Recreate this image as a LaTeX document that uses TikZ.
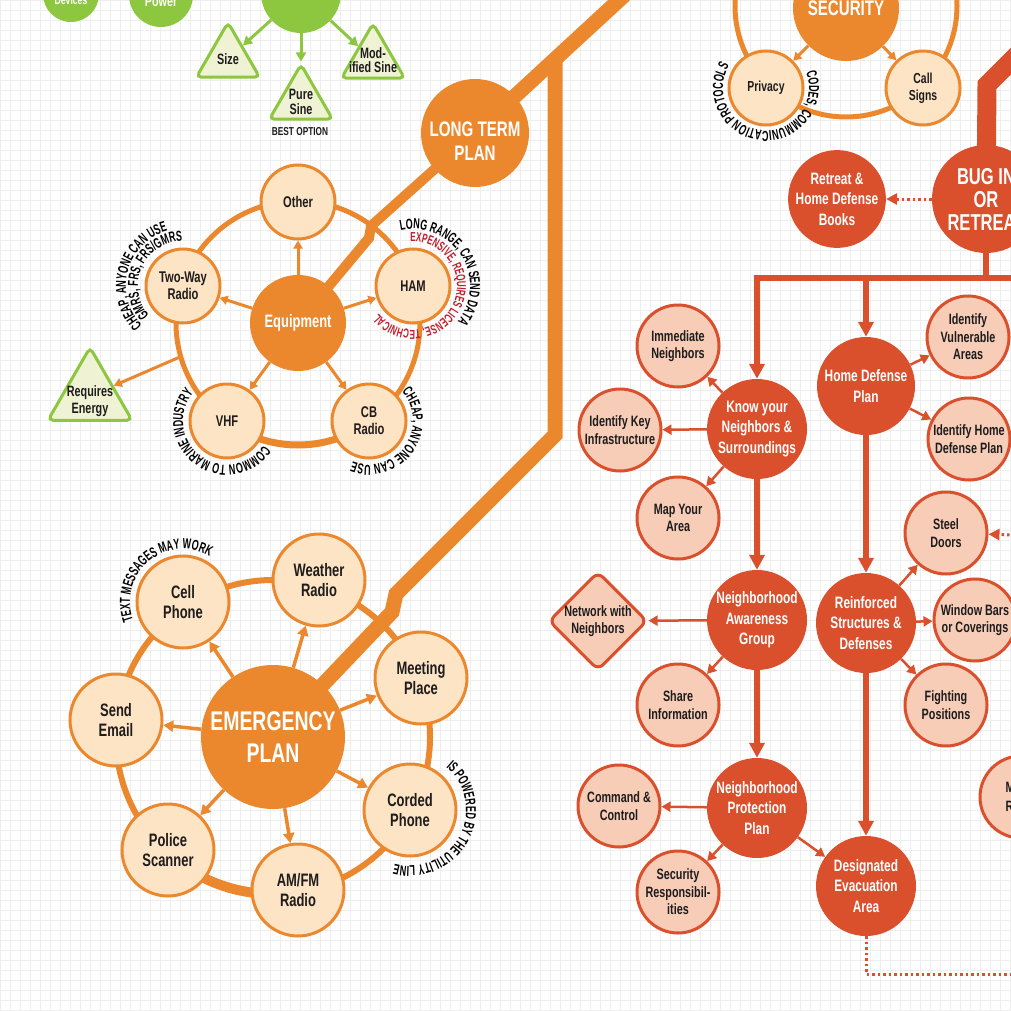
\documentclass[tikz,border=0pt]{standalone}
\usepackage{fontspec}
\setmainfont{Liberation Sans}[FakeStretch=0.72]
\newfontfamily\arcfam{Liberation Sans}[FakeStretch=0.62]
\usetikzlibrary{arrows.meta, positioning, calc, decorations.text, shapes.geometric, backgrounds}

\definecolor{orng}{RGB}{235,136,46}
\definecolor{orngpale}{RGB}{252,228,197}
\definecolor{rust}{RGB}{218,80,45}
\definecolor{rustpale}{RGB}{247,205,184}
\definecolor{lime}{RGB}{141,198,63}
\definecolor{limepale}{RGB}{239,243,212}
\definecolor{ink}{RGB}{30,28,28}
\definecolor{alert}{RGB}{190,30,45}
\definecolor{gridgray}{RGB}{238,238,238}

\newcommand{\fsz}[2]{\fontsize{#1}{#2}\selectfont\bfseries}
\newcommand{\arcf}{\arcfam\fontsize{14.5}{15}\selectfont\bfseries}
\newcommand{\arcfs}{\arcfam\fontsize{13}{13}\selectfont\bfseries}

\begin{document}
\begin{tikzpicture}[x=1pt, y=-1pt,
  hubo/.style={circle, fill=orng, text=white, align=center, inner sep=0pt},
  spokeo/.style={circle, draw=orng, line width=3pt, fill=orngpale, text=ink,
                 align=center, inner sep=0pt},
  hubr/.style={circle, fill=rust, text=white, align=center, inner sep=0pt,
               minimum size=100pt, font=\fsz{16.5}{20.5}},
  spoker/.style={circle, draw=rust, line width=3pt, fill=rustpale, text=ink,
                 align=center, inner sep=0pt, minimum size=82pt, font=\fsz{15}{17.5}},
  blob/.style={circle, fill=lime, inner sep=0pt},
  tri/.style={regular polygon, regular polygon sides=3, draw=lime, line width=3pt,
              fill=limepale, rounded corners=5pt, inner sep=0pt},
  tritxt/.style={font=\fsz{15}{14.5}, text=ink, align=center, inner sep=0pt},
  arro/.style={draw=orng, line width=3pt, -{Triangle[length=8pt, width=9pt]}},
  arroe/.style={draw=orng, line width=3.5pt, -{Triangle[length=10pt, width=11pt]}},
  arrg/.style={draw=lime, line width=3pt, -{Triangle[length=9pt, width=10pt]}},
  arrr/.style={draw=rust, line width=2.5pt, -{Triangle[length=9pt, width=10pt]}},
  trunkr/.style={draw=rust, line width=5.5pt, -{Triangle[length=15pt, width=15pt]}},
  dotr/.style={draw=rust, line width=3pt, dash pattern=on 2.5pt off 3pt},
  ring/.style={draw=orng, line width=#1},
  trunk/.style={draw=orng, line width=#1},
  arcs/.style={decorate, decoration={text along path, text align=center, text={#1}}},
  arcsred/.style={decorate, decoration={text along path, text align=center,
                  text color=alert, text={#1}}}
]
\useasboundingbox (0,0) rectangle (1011,1011);
\clip (0,0) rectangle (1011,1011);

% ── green: power branch, cut off at the top ──
\node[blob, minimum size=56pt] (devices) at (71,-6) {};
\node[text=white, font=\fsz{12}{12}] (devtxt) at (71,0) {Devices};
\node[blob, minimum size=64pt] (power) at (161,-5) {};
\node[text=white, font=\fsz{15}{15}] (powtxt) at (161,1) {Power};
\node[blob, minimum size=80pt] (inverter) at (301,-7) {};

\node[tri, minimum size=73pt, label={[tritxt]center:Size}] (size) at (228,59) {};
\node[tri, minimum size=73pt, label={[tritxt, yshift=-1pt]center:Pure\\Sine}] (puresine) at (301,101) {};
\node[tri, minimum size=73pt, label={[tritxt]center:Mod-\\ified Sine}] (modsine) at (373,60) {};
\node[font=\fsz{11.5}{13}, text=ink] (bestopt) at (300,132) {BEST OPTION};
\node[tri, minimum size=97pt, label={[tritxt, font=\fsz{15}{16.5}, yshift=-5pt]center:Requires\\Energy}] (energy) at (90,396) {};

% ── equipment cluster ──
\node[hubo, minimum size=96pt, font=\fsz{18}{20}] (equip) at (298,323) {Equipment};
\node[spokeo, minimum size=74pt, font=\fsz{15.5}{17}] (other) at (298,202) {Other};
\node[spokeo, minimum size=74pt, font=\fsz{15.5}{17}] (twoway) at (183,286) {Two-Way\\Radio};
\node[spokeo, minimum size=74pt, font=\fsz{15.5}{17}] (ham) at (413,286) {HAM};
\node[spokeo, minimum size=74pt, font=\fsz{15.5}{17}] (vhf) at (227,421) {VHF};
\node[spokeo, minimum size=74pt, font=\fsz{15.5}{17}] (cb) at (369,421) {CB\\Radio};
\coordinate (eqring) at ($(equip)+(164:122)$);

\node[hubo, minimum size=108pt] (ltp) at (475,133) {};
\node[text=white, align=center, font=\fsz{21}{24.5}] (ltptxt) at ($(ltp)+(0,8)$) {LONG TERM\\PLAN};

% ── emergency cluster ──
\node[hubo, minimum size=144pt, font=\fsz{27}{32}] (emerg) at (273,737) {EMERGENCY\\PLAN};
\node[spokeo, minimum size=92pt, font=\fsz{18}{20}] (cell) at (183,602) {Cell\\Phone};
\node[spokeo, minimum size=92pt, font=\fsz{18}{20}] (weather) at (319,580) {Weather\\Radio};
\node[spokeo, minimum size=92pt, font=\fsz{18}{20}] (meeting) at (421,678) {Meeting\\Place};
\node[spokeo, minimum size=92pt, font=\fsz{18}{20}] (corded) at (410,810) {Corded\\Phone};
\node[spokeo, minimum size=92pt, font=\fsz{18}{20}] (amfm) at (298,890) {AM/FM\\Radio};
\node[spokeo, minimum size=92pt, font=\fsz{18}{20}] (police) at (168,850) {Police\\Scanner};
\node[spokeo, minimum size=92pt, font=\fsz{18}{20}] (email) at (116,720) {Send\\Email};

% ── security cluster ──
\node[hubo, minimum size=106pt, font=\fsz{21}{25}] (sec) at (846,8) {SECURITY};
\node[spokeo, minimum size=74pt, font=\fsz{14.5}{17}] (privacy) at (766,88) {Privacy};
\node[spokeo, minimum size=74pt, font=\fsz{14.5}{17}] (callsigns) at (923,88) {Call\\Signs};

% ── bug in / retreat tree ──
\node[hubr, minimum size=108pt, font=\fsz{23}{23}] (bug) at (986,199) {BUG IN\\OR\\RETREAT};
\node[hubr, minimum size=94pt] (books) at (837,199) {Retreat \&\\Home Defense\\Books};
\coordinate (busr) at (1015,278);
\coordinate (busl) at (757,278);
\coordinate (busm) at (866,278);
\coordinate (bugdrop) at (986,278);

\node[hubr] (know) at (757,429) {Know your\\Neighbors \&\\Surroundings};
\node[spoker] (immediate) at (678,346) {Immediate\\Neighbors};
\node[spoker] (infra) at (620,430) {Identify Key\\Infrastructure};
\node[spoker] (maparea) at (678,518) {Map Your\\Area};
\node[hubr, minimum size=98pt] (homedef) at (866,386) {Home Defense\\Plan};
\node[spoker] (vulner) at (968,337) {Identify\\Vulnerable\\Areas};
\node[spoker] (idhome) at (969,439) {Identify Home\\Defense Plan};
\node[spoker] (steel) at (946,533) {Steel\\Doors};
\coordinate (steelin) at (1015,535);

\node[hubr] (nag) at (757,620) {Neighborhood\\Awareness\\Group};
\node[diamond, draw=rust, line width=3pt, fill=rustpale, rounded corners=7pt,
      minimum width=98pt, minimum height=98pt, inner sep=0pt, align=center,
      text=ink, font=\fsz{15}{17.5}] (network) at (598,621) {Network with\\Neighbors};
\node[spoker] (share) at (678,705) {Share\\Information};
\node[hubr] (reinf) at (866,623) {Reinforced\\Structures \&\\Defenses};
\node[spoker] (window) at (975,620) {Window Bars\\or Coverings};
\node[spoker] (fighting) at (946,705) {Fighting\\Positions};
\node[spoker] (medical) at (1021,797) {};
\node[anchor=west, align=left, text=ink, font=\fsz{15}{19}] (medtxt) at (1002,797) {M\\Re};

\node[hubr] (npp) at (757,808) {Neighborhood\\Protection\\Plan};
\node[spoker] (command) at (619,806) {Command \&\\Control};
\node[spoker] (secresp) at (678,892) {Security\\Responsibil-\\ities};
\node[hubr] (desig) at (866,886) {Designated\\Evacuation\\Area};
\coordinate (desigdrop) at (866,974);
\coordinate (desigout) at (1015,974);

% ── arrows ──
\foreach \t in {size, puresine, modsine}
  \draw[arrg] (inverter) -- (\t);
\draw[arro] (eqring) -- (energy);
\foreach \t in {other, twoway, ham, vhf, cb}
  \draw[arro] (equip) -- (\t);
\foreach \t in {cell, weather, meeting, corded, amfm, police, email}
  \draw[arroe] (emerg) -- (\t);
\draw[arro] (sec) -- (privacy);
\draw[arro] (sec) -- (callsigns);

\draw[dotr, -{Triangle[length=11pt, width=11pt]}] (bug) -- (books);
\draw[draw=rust, line width=5.5pt] (bug) -- (bugdrop);
\draw[trunkr] (busr) -- (busl) -- (know);
\draw[trunkr] (busm) -- (homedef);
\draw[arrr] (know) -- (immediate);
\draw[arrr] (know) -- (infra);
\draw[arrr] (know) -- (maparea);
\draw[trunkr] (know) -- (nag);
\draw[arrr] (homedef) -- (vulner);
\draw[arrr] (homedef) -- (idhome);
\draw[trunkr] (homedef) -- (reinf);
\draw[dotr, -{Triangle[length=11pt, width=11pt]}] (steelin) -- (steel);
\draw[arrr] (nag) -- (network);
\draw[arrr] (nag) -- (share);
\draw[trunkr] (nag) -- (npp);
\draw[arrr] (reinf) -- (steel);
\draw[arrr] (reinf) -- (window);
\draw[arrr] (reinf) -- (fighting);
\draw[trunkr] (reinf) -- (desig);
\draw[arrr] (npp) -- (command);
\draw[arrr] (npp) -- (secresp);
\draw[arrr] (npp) -- (desig);
\draw[dotr] (desig) -- (desigdrop) -- (desigout);

% ── curved notes ──
\path[arcs={|\arcf|CHEAP, ANYONE CAN USE}] (twoway) ++(80:57) arc[start angle=80, end angle=310, radius=57];
\path[arcs={|\arcf|GMRS, FRS, FRS/GMRS}] (twoway) ++(90:45) arc[start angle=90, end angle=318, radius=45];
\path[arcs={|\arcf|LONG RANGE, CAN SEND DATA}] (ham) ++(-155:57) arc[start angle=-155, end angle=91, radius=57];
\path[arcsred={|\arcfs|EXPENSIVE, REQUIRES LICENSE, TECHNICAL}] (ham) ++(-152:44) arc[start angle=-152, end angle=200, radius=44];
\path[arcs={|\arcf|COMMON TO MARINE INDUSTRY}] (vhf) ++(0:44) arc[start angle=0, end angle=254, radius=44];
\path[arcs={|\arcf|CHEAP, ANYONE CAN USE}] (cb) ++(-90:44) arc[start angle=-90, end angle=160, radius=44];
\path[arcs={|\arcf|TEXT MESSAGES MAY WORK}] (cell) ++(110:53) arc[start angle=110, end angle=350, radius=53];
\path[arcs={|\arcf|IS POWERED BY THE UTILITY LINE}] (corded) ++(-95:56) arc[start angle=-95, end angle=151, radius=56];
\path[arcs={|\arcf|CODES, COMMUNICATION PROTOCOLS}] (privacy) ++(-40:43) arc[start angle=-40, end angle=230, radius=43];

% ── paper, rings and trunks underneath ──
\begin{scope}[on background layer]
  \clip (0,0) rectangle (1011,1011);
  \fill[white] (0,0) rectangle (1011,1011);
  \foreach \g in {0,10,...,1010} {
    \draw[gridgray, line width=0.5pt] (\g,0) -- (\g,1011);
    \draw[gridgray, line width=0.5pt] (0,\g) -- (1011,\g);
  }
  \draw[ring=5pt] (equip) circle[radius=122];
  \draw[ring=7pt] (equip) ++(54:122) arc[start angle=54, end angle=126, radius=122];
  \draw[ring=6pt] (emerg) circle[radius=157];
  \draw[ring=10pt] (emerg) ++(81:157) arc[start angle=81, end angle=133, radius=157];
  \draw[ring=5pt] ($(sec)+(0,-2)$) circle[radius=111];

  \coordinate (tee) at (555,59);
  \draw[trunk=10pt] (equip.center) -- (369,238) -- (371,226) -- (ltp.center);
  \draw[trunk=15pt] (ltp.center) -- (630,-10);
  \draw[trunk=15pt] (tee) -- (555,435) -- (396,594) -- (392,612) -- (emerg.center);
  \draw[draw=rust, line width=19pt] (bug.center) -- (987,85) -- (1050,22);
\end{scope}
\end{tikzpicture}
\end{document}
